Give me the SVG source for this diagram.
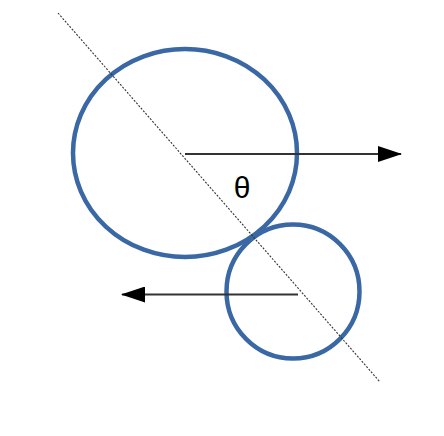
<svg xmlns="http://www.w3.org/2000/svg" width="444" height="436" viewBox="0 0 444 436">
<style>
.ball{fill:none;stroke:#3A68A4;stroke-width:4.5}
.arr{stroke:#333;stroke-width:2;fill:none}
.axis{stroke:#333;stroke-width:1.1;stroke-dasharray:2 1.5;fill:none}
.lbl{font-family:"Liberation Sans",Arial,sans-serif;font-size:30px;fill:#000}
</style>
<defs>
<marker id="ah" markerUnits="userSpaceOnUse" markerWidth="24" markerHeight="16" refX="23" refY="8" orient="auto">
<path d="M0,0 L24,8 L0,16 Z" fill="#000"/>
</marker>
</defs>
<rect width="444" height="436" fill="#fff"/>
<g id="large-ball"><ellipse class="ball" cx="185" cy="153" rx="112" ry="104"/></g>
<g id="small-ball"><ellipse class="ball" cx="293" cy="291.5" rx="66.5" ry="67"/></g>
<g id="connectors">
<line class="axis" x1="58" y1="13" x2="380" y2="382"/>
<line class="arr" x1="185" y1="154" x2="401" y2="154" marker-end="url(#ah)"/>
<line class="arr" x1="298" y1="294.5" x2="122" y2="294.5" marker-end="url(#ah)"/>
</g>
<g id="theta"><text class="lbl" x="242" y="198" text-anchor="middle">θ</text></g>
</svg>
